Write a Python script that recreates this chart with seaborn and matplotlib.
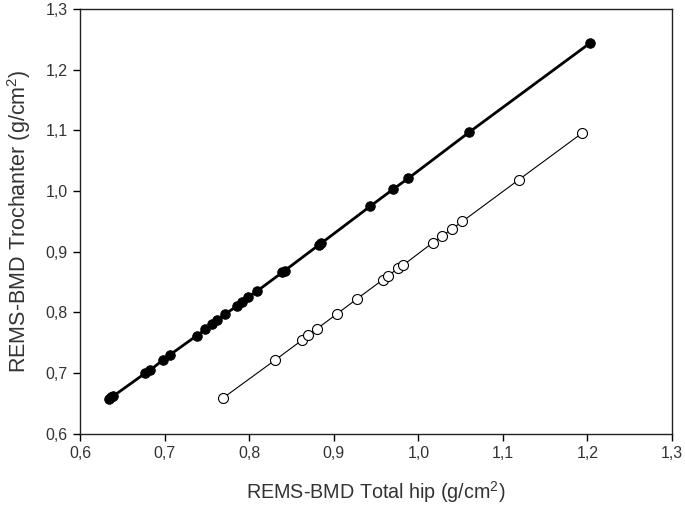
import numpy as np
import pandas as pd
import seaborn as sns
import matplotlib
matplotlib.use("Agg")
import matplotlib.pyplot as plt
from matplotlib.ticker import FuncFormatter, MultipleLocator

# values
total_hip_filled = [0.634, 0.636, 0.639, 0.677, 0.683, 0.698, 0.706, 0.738, 0.748,
                    0.756, 0.762, 0.771, 0.786, 0.791, 0.799, 0.809, 0.839, 0.842,
                    0.882, 0.885, 0.943, 0.970, 0.988, 1.060, 1.203]
trochanter_filled = [0.658, 0.660, 0.662, 0.700, 0.705, 0.722, 0.730, 0.762, 0.772,
                     0.781, 0.787, 0.797, 0.811, 0.817, 0.825, 0.835, 0.866, 0.869,
                     0.911, 0.914, 0.975, 1.003, 1.021, 1.097, 1.244]

total_hip_open = [0.769, 0.831, 0.862, 0.870, 0.880, 0.904, 0.928, 0.958, 0.964,
                  0.976, 0.982, 1.017, 1.028, 1.040, 1.052, 1.119, 1.194]
trochanter_open = [0.659, 0.722, 0.754, 0.763, 0.773, 0.798, 0.823, 0.854, 0.860,
                   0.873, 0.878, 0.915, 0.926, 0.938, 0.950, 1.019, 1.096]

filled = pd.DataFrame({"hip": total_hip_filled, "troch": trochanter_filled})
hollow = pd.DataFrame({"hip": total_hip_open, "troch": trochanter_open})

sns.set_style("ticks")
plt.rcParams["font.family"] = ["Liberation Sans", "DejaVu Sans"]
plt.rcParams["mathtext.fontset"] = "custom"
plt.rcParams["mathtext.rm"] = "Liberation Sans"
plt.rcParams["mathtext.it"] = "Liberation Sans:italic"

fig = plt.figure(figsize=(6.85, 5.08), dpi=100)
ax = fig.add_axes([0.117, 0.146, 0.864, 0.836])

sns.lineplot(data=filled, x="hip", y="troch", ax=ax, color="black", linewidth=2.0,
             marker="o", markersize=6.8, markerfacecolor="black",
             markeredgecolor="black", sort=True)
sns.lineplot(data=hollow, x="hip", y="troch", ax=ax, color="black", linewidth=0.8,
             marker="o", markersize=7.2, markerfacecolor="white",
             markeredgecolor="black", markeredgewidth=0.8, sort=True)

ax.set_xlim(0.6, 1.3)
ax.set_ylim(0.6, 1.3)
ax.xaxis.set_major_locator(MultipleLocator(0.1))
ax.yaxis.set_major_locator(MultipleLocator(0.1))
comma = FuncFormatter(lambda v, p: f"{v:.1f}".replace(".", ","))
ax.xaxis.set_major_formatter(comma)
ax.yaxis.set_major_formatter(comma)

txt = "#333333"
ax.tick_params(direction="out", length=5, width=1, colors="black",
               labelcolor=txt, labelsize=11.5, pad=4)
for s in ax.spines.values():
    s.set_linewidth(1.0)
    s.set_color("#222222")

ax.set_xlabel("REMS-BMD Total hip (g/cm$^2$)", fontsize=14.2, color=txt, labelpad=13)
ax.set_ylabel("REMS-BMD Trochanter (g/cm$^2$)", fontsize=15.5, color=txt, labelpad=9)

fig.savefig("out.png", dpi=100)
